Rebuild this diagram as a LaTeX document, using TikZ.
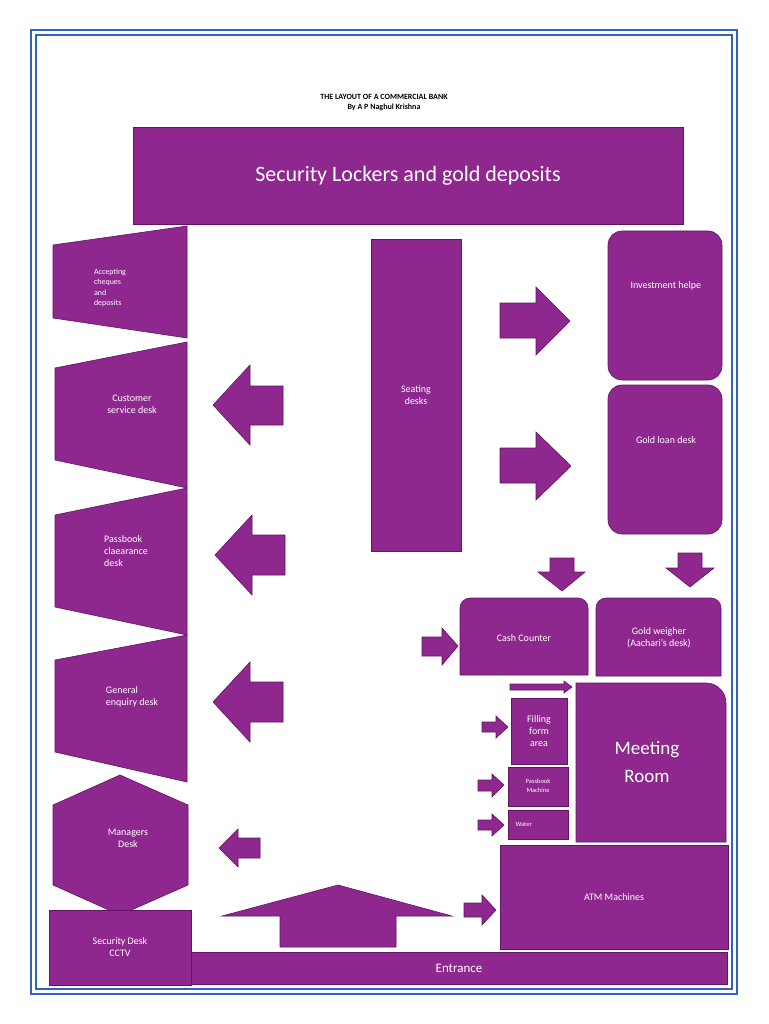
\documentclass[tikz,border=0pt]{standalone}
\usepackage{fontspec}
\setmainfont{Carlito}
\begin{document}
\begin{tikzpicture}[x=1pt,y=-1pt,
  sh/.style={fill=pp,draw=pd,line width=0.6pt},
  tx/.style={text=white,align=center,font=\fontsize{10}{12}\selectfont}]
\definecolor{pp}{RGB}{142,39,142}
\definecolor{pd}{RGB}{100,20,100}
\definecolor{bl}{RGB}{48,96,200}
\useasboundingbox (0,0) rectangle (768,1024);
\fill[white] (0,0) rectangle (768,1024);
\draw[bl,line width=1.5pt] (31,30) rectangle (737,994);
\draw[bl,line width=1.2pt] (36,35) rectangle (732,989);
\node[font=\bfseries\fontsize{8}{10}\selectfont,align=center] (title) at (384,103) {THE LAYOUT OF A COMMERCIAL BANK\\By A P Naghul Krishna};
% top
\draw[sh] (133,127) rectangle (683,224);
\node[tx,font=\fontsize{22}{26}\selectfont] (sl) at (408,176) {Security Lockers and gold deposits};
% left
\draw[sh] (53,245)--(187,226)--(187,338)--(53,318)--cycle;
\node[tx,align=left,font=\fontsize{8}{10.5}\selectfont] (acd) at (110,288) {Accepting\\cheques\\and\\deposits};
\draw[sh] (55,368)--(187,342)--(187,488)--(55,460)--cycle;
\node[tx] (cs) at (132,404) {Customer\\service desk};
\draw[sh] (55,515)--(187,488)--(187,635)--(55,607)--cycle;
\node[tx,align=left] (pb) at (126,551) {Passbook\\claearance\\desk};
\draw[sh] (55,660)--(187,635)--(187,782)--(55,752)--cycle;
\node[tx,align=left] (ge) at (132,697) {General\\enquiry desk};
\draw[sh] (120,775)--(188,805)--(188,885)--(120,915)--(53,885)--(53,805)--cycle;
\node[tx] (md) at (128,838) {Managers\\Desk};
\draw[sh] (49,910) rectangle (191,985);
\node[tx] (sd) at (120,947) {Security Desk\\CCTV};
\draw[sh] (191,952) rectangle (727,984);
\node[tx,font=\fontsize{13}{15}\selectfont] (en) at (459,968) {Entrance};
% center/right
\draw[sh] (371,239) rectangle (461,551);
\node[tx] (sd2) at (416,395) {Seating\\desks};
\draw[sh,rounded corners=14pt] (608,231) rectangle (722,380);
\node[tx,anchor=west] (ih) at (627,286) {Investment helpe};
\draw[sh,rounded corners=14pt] (608,385) rectangle (722,534);
\node[tx] (gl) at (666,440) {Gold loan desk};
\draw[sh] (460,675)--(460,608) to[out=90,in=180] (470,598)--(578,598) to[out=0,in=90] (588,608)--(588,675)--cycle;
\node[tx] (cc) at (524,638) {Cash Counter};
\draw[sh] (596,676)--(596,608) to[out=90,in=180] (606,598)--(711,598) to[out=0,in=90] (721,608)--(721,676)--cycle;
\node[tx] (gw) at (659,638) {Gold weigher\\(Aachari's desk)};
\draw[sh] (576,842)--(576,683)--(706,683) to[out=0,in=90] (726,703)--(726,842)--cycle;
\node[tx,font=\fontsize{19}{28}\selectfont] (mr) at (647,762) {Meeting\\Room};
\draw[sh] (511,698) rectangle (567,764);
\node[tx] (ff) at (539,731) {Filling\\form\\area};
\draw[sh] (508,767) rectangle (568,806);
\node[tx,font=\fontsize{6.5}{8.5}\selectfont] (pm) at (538,786) {Passbook\\Machine};
\draw[sh] (508,810) rectangle (568,839);
\node[tx,font=\fontsize{6.5}{8}\selectfont,anchor=west] (wa) at (512,824) {Water};
\draw[sh] (500,845) rectangle (728,949);
\node[tx] (atm) at (614,897) {ATM Machines};
% arrows
\newcommand\rarr[5]{\draw[sh] (#1,#3)--(#2-0.5*#5,#3)--(#2-0.5*#5,#3-#4)--(#2,#3+#5*0.5+0)--(#2-0.5*#5,#3+#5+#4)--(#2-0.5*#5,#3+#5)--(#1,#3+#5)--cycle;}
% right arrows: x1,x2(tip),ytop body,head overhang,body h
\draw[sh] (500,303)--(536,303)--(536,287)--(570,321)--(536,355)--(536,338)--(500,338)--cycle;
\draw[sh] (500,448)--(536,448)--(536,432)--(571,466)--(536,500)--(536,483)--(500,483)--cycle;
\draw[sh] (283,386)--(250,386)--(250,365)--(213,405)--(250,445)--(250,425)--(283,425)--cycle;
\draw[sh] (285,535)--(252,535)--(252,515)--(215,555)--(252,595)--(252,575)--(285,575)--cycle;
\draw[sh] (283,682)--(250,682)--(250,662)--(213,702)--(250,742)--(250,722)--(283,722)--cycle;
\draw[sh] (260,838)--(238,838)--(238,829)--(219,848)--(238,867)--(238,858)--(260,858)--cycle;
\draw[sh] (550,558)--(574,558)--(574,572)--(585,572)--(562,591)--(538,572)--(550,572)--cycle;
\draw[sh] (678,553)--(702,553)--(702,568)--(714,568)--(690,587)--(666,568)--(678,568)--cycle;
\draw[sh] (422,637)--(442,637)--(442,628)--(458,646)--(442,665)--(442,656)--(422,656)--cycle;
\draw[sh] (510,684)--(564,684)--(564,681)--(572,687)--(564,693)--(564,690)--(510,690)--cycle;
\draw[sh] (482,722)--(496,722)--(496,716)--(508,727)--(496,738)--(496,732)--(482,732)--cycle;
\draw[sh] (478,780)--(492,780)--(492,774)--(504,785)--(492,797)--(492,791)--(478,791)--cycle;
\draw[sh] (478,820)--(492,820)--(492,814)--(504,825)--(492,836)--(492,830)--(478,830)--cycle;
\draw[sh] (464,903)--(482,903)--(482,895)--(496,910)--(482,925)--(482,917)--(464,917)--cycle;
\draw[sh] (280,947)--(280,916)--(222,916)--(338,885)--(452,916)--(396,916)--(396,947)--cycle;
\end{tikzpicture}
\end{document}
